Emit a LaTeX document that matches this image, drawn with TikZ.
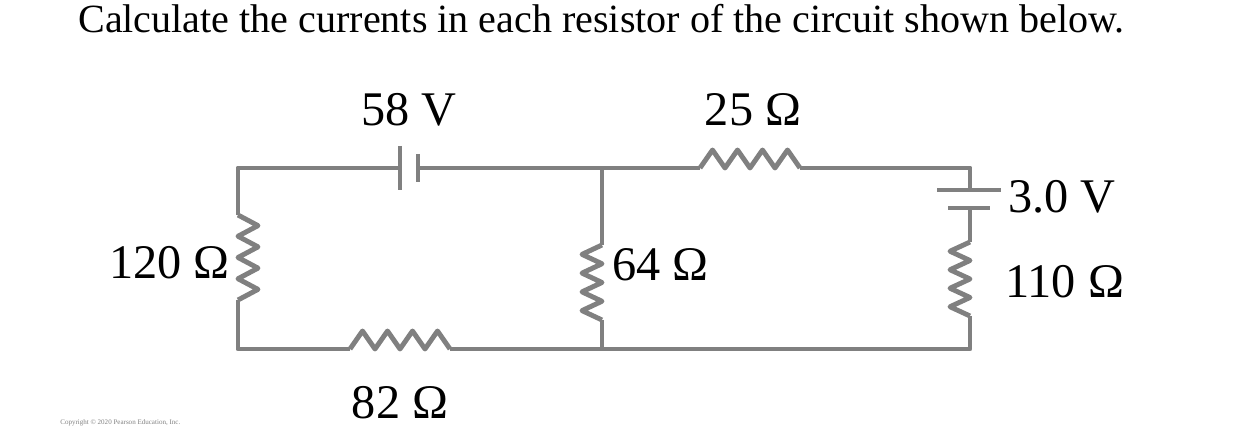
\documentclass[tikz,border=0pt]{standalone}
\usepackage{fontspec}
\setmainfont{Liberation Serif}
\usetikzlibrary{positioning}
\definecolor{wiregray}{RGB}{128,128,128}
\newcommand{\zigh}[4]{% x0, x1, y, amplitude (horizontal resistor)
  \draw[wire] (#1,#3) \foreach \k in {1,...,4}{ -- ({#1+(#2-#1)*(\k-0.5)/4},{#3+#4}) -- ({#1+(#2-#1)*\k/4},#3)};}
\newcommand{\zigv}[4]{% y0, y1, x, amplitude (vertical resistor)
  \draw[wire] (#3,#1) \foreach \k in {1,...,4}{ -- ({#3+#4},{#1+(#2-#1)*(\k-0.5)/4}) -- (#3,{#1+(#2-#1)*\k/4})};}
\begin{document}
\begin{tikzpicture}[x=0.02cm,y=-0.02cm]
\tikzset{wire/.style={draw=wiregray,line width=2.8pt,line join=round},
  lbl/.style={font=\fontsize{27.5}{27.5}\selectfont,inner sep=0pt}}
\clip (0,0) rectangle (1249,428);
\useasboundingbox (0,0) rectangle (1249,428);
\node[font=\fontsize{22.8}{22.8}\selectfont,anchor=base west,inner sep=0pt] (title) at (78,33) {Calculate the currents in each resistor of the circuit shown below.};
% wires
\coordinate (tl) at (238,168); \coordinate (bl) at (238,349);
\coordinate (tm) at (602,168); \coordinate (bm) at (602,349);
\coordinate (tr) at (970,168); \coordinate (br) at (970,349);
\draw[wire] (238,215) -- (tl) -- (400,168);
\draw[wire] (418,168) -- (700,168);
\draw[wire] (800,168) -- (tr) -- (970,190);
\draw[wire] (970,208) -- (970,242);
\draw[wire] (970,316) -- (br) -- (450,349);
\draw[wire] (350,349) -- (bl) -- (238,300);
\draw[wire] (tm) -- (602,245);
\draw[wire] (602,320) -- (bm);
% batteries
\draw[wire] (400,146) -- (400,190);
\draw[wire] (418,154) -- (418,182);
\draw[wire] (937,190) -- (1001,190);
\draw[wire] (948,208) -- (990,208);
% resistors
\zigh{700}{800}{168}{-18}
\zigh{350}{450}{349}{-18}
\zigv{215}{300}{238}{20}
\zigv{245}{320}{602}{-20}
\zigv{242}{316}{970}{-20}
% labels
\node[lbl] (v58) at (409,110) {58 V};
\node[lbl] (r25) at (753,110) {25 Ω};
\node[lbl,anchor=east] (r120) at (230,263) {120 Ω};
\node[lbl,anchor=west] (r64) at (612,265) {64 Ω};
\node[lbl,anchor=west] (v3) at (1008,197) {3.0 V};
\node[lbl,anchor=west] (r110) at (1005,282) {110 Ω};
\node[lbl] (r82) at (400,403) {82 Ω};
\node[font=\fontsize{4}{4}\selectfont,text=gray,anchor=base west,inner sep=0pt] (copy) at (60,425) {Copyright \copyright\ 2020 Pearson Education, Inc.};
\end{tikzpicture}
\end{document}
